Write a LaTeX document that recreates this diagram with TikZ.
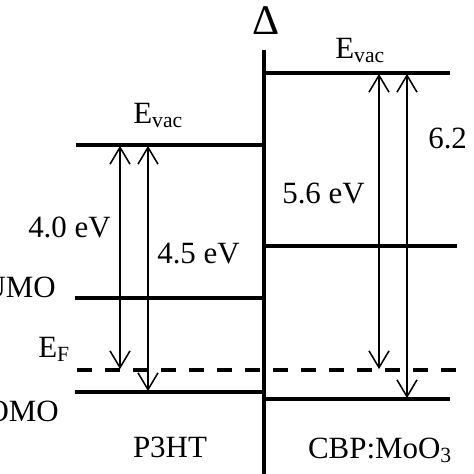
\documentclass[tikz,border=0pt]{standalone}
\usepackage{fontspec}
\setmainfont{Liberation Serif}
\usetikzlibrary{arrows.meta}

\begin{document}
\begin{tikzpicture}[
    x=0.025cm, y=-0.025cm,
    level/.style={line width=2.2pt},
    fermiLine/.style={line width=2.2pt, dash pattern=on 0.37cm off 0.33cm},
    gapArrow/.style={{Straight Barb[length=0.42cm, width=0.5cm]}-{Straight Barb[length=0.42cm, width=0.5cm]}, line width=1.1pt, shorten <=0.6pt, shorten >=0.6pt},
    lbl/.style={inner sep=0pt, font=\fontsize{22}{26}\selectfont}
]
    \useasboundingbox (0,0) rectangle (474,474);
    \clip (0,0) rectangle (474,474);

    % Energy levels: P3HT (left)
    \coordinate (vacL) at (76,145);
    \coordinate (lumoL) at (75,298);
    \coordinate (homoL) at (75,392);
    % Energy levels: CBP:MoO3 (right)
    \coordinate (vacR) at (450,73);
    \coordinate (lumoR) at (457,246);
    \coordinate (homoR) at (450,399);
    % Fermi level and interface
    \coordinate (fermiL) at (77,370);
    \coordinate (fermiR) at (456,370);
    \coordinate (ifTop) at (264,50);
    \coordinate (ifBot) at (264,474);

    \draw[level] (vacL) -- (vacL -| ifTop);
    \draw[level] (lumoL) -- (lumoL -| ifTop);
    \draw[level] (homoL) -- (homoL -| ifTop);
    \draw[level] (vacR -| ifTop) -- (vacR);
    \draw[level] (lumoR -| ifTop) -- (lumoR);
    \draw[level] (homoR -| ifTop) -- (homoR);
    \draw[fermiLine] (fermiL) -- (fermiR);
    \draw[level] (ifTop) -- (ifBot);

    % Gap arrows
    \draw[gapArrow] (120,0 |- vacL) -- (120,0 |- fermiL);
    \draw[gapArrow] (148,0 |- vacL) -- (148,0 |- homoL);
    \draw[gapArrow] (379,0 |- vacR) -- (379,0 |- fermiR);
    \draw[gapArrow] (407,0 |- vacR) -- (407,0 |- homoR);

    % Labels
    \node[lbl, anchor=base, font=\fontsize{30}{34}\selectfont] (delta) at (266,34) {Δ};
    \node[lbl, anchor=base west] (evacLbl) at (133,123) {E\textsubscript{vac}};
    \node[lbl, anchor=base west] (evacRLbl) at (335,58) {E\textsubscript{vac}};
    \node[lbl, anchor=base west] (wfL) at (28,237) {4.0 eV};
    \node[lbl, anchor=base west] (ipL) at (157,263) {4.5 eV};
    \node[lbl, anchor=base west] (wfR) at (282,203) {5.6 eV};
    \node[lbl, anchor=base west] (ipR) at (428,148) {6.2 eV};
    \node[lbl, anchor=base east] (lumoLbl) at (56,297) {LUMO};
    \node[lbl, anchor=base west] (efLbl) at (38,357) {E\textsubscript{F}};
    \node[lbl, anchor=base east] (homoLbl) at (59,421) {HOMO};
    \node[lbl, anchor=base] (p3ht) at (170,457) {P3HT};
    \node[lbl, anchor=base] (cbp) at (380,458) {CBP:MoO\textsubscript{3}};
\end{tikzpicture}
\end{document}
